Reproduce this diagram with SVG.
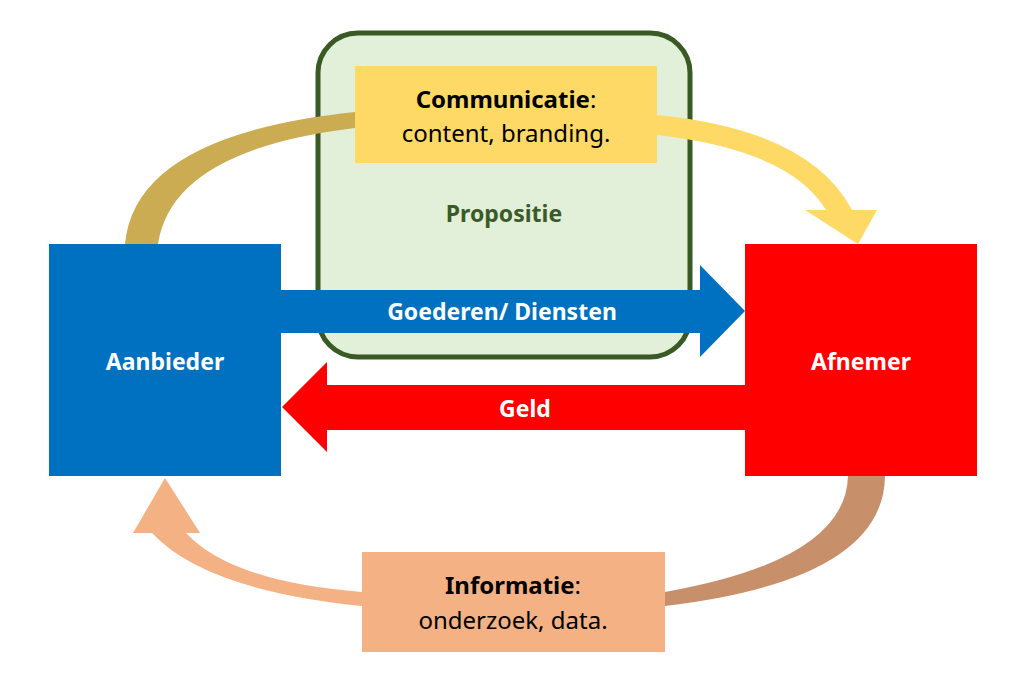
<svg xmlns="http://www.w3.org/2000/svg" width="1024" height="694" viewBox="0 0 1024 694">
<style>
text{font-family:"Noto Sans","Liberation Sans",sans-serif;text-anchor:middle}
.w{fill:#fff;font-weight:bold;font-size:23px}
.b{fill:#000;font-size:24px}
.bb{font-weight:bold}
</style>
<rect width="1024" height="694" fill="#fff"/>
<g id="propositie">
<rect x="318" y="33" width="372" height="324" rx="40" fill="#e2efd9" stroke="#3a5a25" stroke-width="5"/>
<text x="504" y="222" style="fill:#3b5a26;font-weight:bold;font-size:23px">Propositie</text>
</g>
<g id="connectors">
<path d="M125,244 Q135,135 355,112 L355,128 Q172,150 158,244 Z" fill="#ccac52"/>
<path d="M657,115 Q810,130 852,210 L877,210 L858,244 L805,210 L826,210 Q790,150 657,135 Z" fill="#ffd966"/>
<path d="M848,476 L885,476 Q884,580 665,606 L665,592 Q846,560 848,476 Z" fill="#c8906a"/>
<path d="M165,478 L200,533 L186,533 Q232,582 362,592 L362,606 Q205,590 152,533 L133,533 Z" fill="#f4b183"/>
<path d="M281,290 L700,290 L700,265 L745,311 L700,357 L700,333 L281,333 Z" fill="#0070c0"/>
<path d="M745,385 L327,385 L327,362 L282,407 L327,452 L327,430 L745,430 Z" fill="#ff0000"/>
<text x="502" y="320" class="w">Goederen/ Diensten</text>
<text x="525" y="417" class="w">Geld</text>
</g>
<g id="communicatie">
<rect x="355" y="66" width="302" height="97" fill="#ffd966"/>
<text x="506" y="108" class="b"><tspan class="bb">Communicatie</tspan>:</text>
<text x="506" y="142" class="b">content, branding.</text>
</g>
<g id="aanbieder">
<rect x="49" y="244" width="232" height="232" fill="#0070c0"/>
<text x="165" y="370" class="w">Aanbieder</text>
</g>
<g id="afnemer">
<rect x="745" y="244" width="232" height="232" fill="#ff0000"/>
<text x="861" y="370" class="w">Afnemer</text>
</g>
<g id="informatie">
<rect x="362" y="552" width="303" height="100" fill="#f4b183"/>
<text x="513" y="594" class="b"><tspan class="bb">Informatie</tspan>:</text>
<text x="513" y="629" class="b">onderzoek, data.</text>
</g>
</svg>
